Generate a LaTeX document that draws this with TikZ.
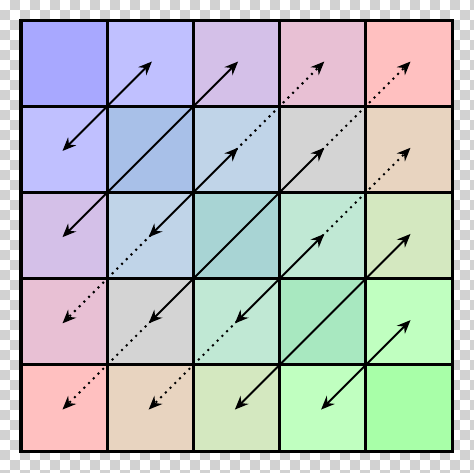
\documentclass[tikz,border=0pt]{standalone}
\usepackage{xcolor}
\usepackage{tikz}
\usetikzlibrary{positioning, arrows.meta}

\definecolor{tone11}{RGB}{168,168,255}
\definecolor{tone12}{RGB}{192,192,255}
\definecolor{tone13}{RGB}{212,192,232}
\definecolor{tone14}{RGB}{232,192,212}
\definecolor{tone15}{RGB}{255,192,192}
\definecolor{tone22}{RGB}{168,192,232}
\definecolor{tone23}{RGB}{192,212,232}
\definecolor{tone24}{RGB}{212,212,212}
\definecolor{tone25}{RGB}{232,212,192}
\definecolor{tone33}{RGB}{168,212,212}
\definecolor{tone34}{RGB}{192,232,212}
\definecolor{tone35}{RGB}{212,232,192}
\definecolor{tone44}{RGB}{168,232,192}
\definecolor{tone45}{RGB}{192,255,192}
\definecolor{tone55}{RGB}{168,255,168}
\definecolor{checkgray}{RGB}{210,210,210}

\begin{document}
\begin{tikzpicture}
  [cellbox/.style={draw,rectangle,inner sep=0pt,outer sep=0pt,minimum width=2cm,minimum height=2cm,line width=2pt},
   swaparrow/.style={{Stealth[length=9pt,width=7.5pt,inset=3pt]}-{Stealth[length=9pt,width=7.5pt,inset=3pt]},line width=1.3pt,shorten <=-1.5pt,shorten >=-1.5pt},
   dotarrow/.style={-{Stealth[length=9pt,width=7.5pt,inset=3pt]},line width=1.9pt,line cap=round,dash pattern=on 0pt off 4.4pt,shorten >=-1.5pt}]
  \useasboundingbox (-0.487,-0.488) rectangle (10.51,10.465);
  \begin{scope}
    \clip (-0.487,-0.488) rectangle (10.51,10.465);
    \foreach \row in {0,...,47} {
      \foreach \col in {0,...,47} {
        \pgfmathparse{int(mod(\row+\col,2))}
        \ifnum\pgfmathresult=1
          \fill [checkgray] ({-0.487+0.232*\col},{10.465-0.232*\row}) rectangle ++(0.232,-0.232);
        \fi
      }
    }
  \end{scope}
  \node (cell11) at (1,9) [cellbox,fill=tone11] {};
  \node (cell12) [cellbox,fill=tone12,right=0 of cell11.east] {};
  \node (cell13) [cellbox,fill=tone13,right=0 of cell12.east] {};
  \node (cell14) [cellbox,fill=tone14,right=0 of cell13.east] {};
  \node (cell15) [cellbox,fill=tone15,right=0 of cell14.east] {};
  \node (cell21) [cellbox,fill=tone12,below=0 of cell11.south] {};
  \node (cell22) [cellbox,fill=tone22,right=0 of cell21.east] {};
  \node (cell23) [cellbox,fill=tone23,right=0 of cell22.east] {};
  \node (cell24) [cellbox,fill=tone24,right=0 of cell23.east] {};
  \node (cell25) [cellbox,fill=tone25,right=0 of cell24.east] {};
  \node (cell31) [cellbox,fill=tone13,below=0 of cell21.south] {};
  \node (cell32) [cellbox,fill=tone23,right=0 of cell31.east] {};
  \node (cell33) [cellbox,fill=tone33,right=0 of cell32.east] {};
  \node (cell34) [cellbox,fill=tone34,right=0 of cell33.east] {};
  \node (cell35) [cellbox,fill=tone35,right=0 of cell34.east] {};
  \node (cell41) [cellbox,fill=tone14,below=0 of cell31.south] {};
  \node (cell42) [cellbox,fill=tone24,right=0 of cell41.east] {};
  \node (cell43) [cellbox,fill=tone34,right=0 of cell42.east] {};
  \node (cell44) [cellbox,fill=tone44,right=0 of cell43.east] {};
  \node (cell45) [cellbox,fill=tone45,right=0 of cell44.east] {};
  \node (cell51) [cellbox,fill=tone15,below=0 of cell41.south] {};
  \node (cell52) [cellbox,fill=tone25,right=0 of cell51.east] {};
  \node (cell53) [cellbox,fill=tone35,right=0 of cell52.east] {};
  \node (cell54) [cellbox,fill=tone45,right=0 of cell53.east] {};
  \node (cell55) [cellbox,fill=tone55,right=0 of cell54.east] {};
  \draw [swaparrow] (cell21.center) -- (cell12.center);
  \draw [swaparrow] (cell31.center) -- (cell13.center);
  \draw [swaparrow] (cell32.center) -- (cell23.center);
  \draw [dotarrow] (cell32.center) -- (cell41.center);
  \draw [dotarrow] (cell23.center) -- (cell14.center);
  \draw [swaparrow] (cell42.center) -- (cell24.center);
  \draw [dotarrow] (cell42.center) -- (cell51.center);
  \draw [dotarrow] (cell24.center) -- (cell15.center);
  \draw [swaparrow] (cell43.center) -- (cell34.center);
  \draw [dotarrow] (cell43.center) -- (cell52.center);
  \draw [dotarrow] (cell34.center) -- (cell25.center);
  \draw [swaparrow] (cell53.center) -- (cell35.center);
  \draw [swaparrow] (cell54.center) -- (cell45.center);
\end{tikzpicture}
\end{document}
